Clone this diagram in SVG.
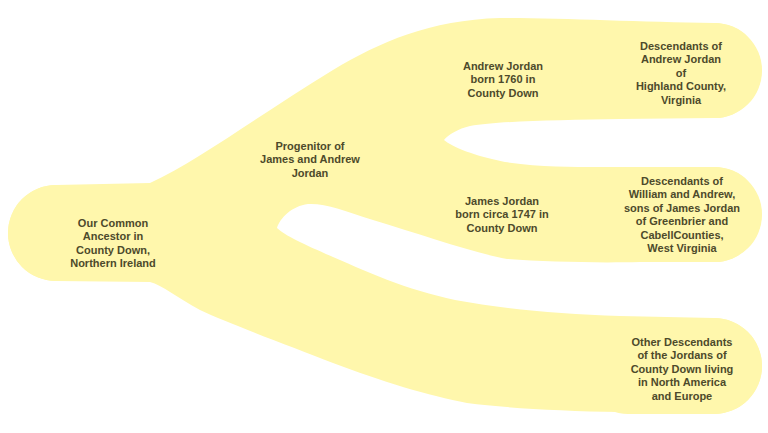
<svg xmlns="http://www.w3.org/2000/svg" width="768" height="433" viewBox="0 0 768 433">
<style>
.shape{fill:#FFF7AC;stroke:none}
.lbl{font-family:"Liberation Sans",Arial,sans-serif;font-weight:bold;font-size:11px;fill:#4D4A2B;text-anchor:middle}
</style>
<rect width="768" height="433" fill="#FFFFFF"/>
<g id="connectors">
<path class="shape" d="M 56,185 L 150,183 C 200,160 262,113 333,70 C 380,42 430,20 500,18 C 560,18 640,22 714,23 A 47.5 47.5 0 0 1 714,118 L 620,119 C 560,120 500,121 470,126 C 458,129 449,134 444,140 C 452,147 475,156 505,162 C 540,167 570,167 600,167 L 714,167 A 47.5 47.5 0 0 1 714,262 L 640,262 C 600,263 545,262 507,259 C 470,252 420,234 373,220 C 345,211 325,203 308,204 C 292,206 280,218 277,228 C 285,236 310,247 340,260 C 380,278 425,296 473,303 C 515,310 565,314 620,316 L 714,318 A 48 48 0 0 1 714,414 L 620,412 C 560,411 505,408 467,403 C 430,396 380,381 333,363 C 290,346 230,324 200,310 C 178,298 162,285 150,282 L 56,281 A 48 48 0 0 1 56,185 Z"/>
</g>
<g id="node-ancestor">
<rect class="shape" x="8" y="185" width="140" height="96" rx="48"/>
<text class="lbl" x="113" y="227"><tspan x="113">Our Common</tspan><tspan x="113" dy="13.4">Ancestor in</tspan><tspan x="113" dy="13.4">County Down,</tspan><tspan x="113" dy="13.4">Northern Ireland</tspan></text>
</g>
<g id="node-progenitor">
<text class="lbl" x="310" y="150"><tspan x="310">Progenitor of</tspan><tspan x="310" dy="13.4">James and Andrew</tspan><tspan x="310" dy="13.4">Jordan</tspan></text>
</g>
<g id="node-andrew">
<text class="lbl" x="503" y="70"><tspan x="503">Andrew Jordan</tspan><tspan x="503" dy="13.4">born 1760 in</tspan><tspan x="503" dy="13.4">County Down</tspan></text>
</g>
<g id="node-james">
<text class="lbl" x="502" y="205"><tspan x="502">James Jordan</tspan><tspan x="502" dy="13.4">born circa 1747 in</tspan><tspan x="502" dy="13.4">County Down</tspan></text>
</g>
<g id="node-desc-andrew">
<rect class="shape" x="580" y="23" width="182" height="95" rx="47.5"/>
<text class="lbl" x="681" y="50"><tspan x="681">Descendants of</tspan><tspan x="681" dy="13.4">Andrew Jordan</tspan><tspan x="681" dy="13.4">of</tspan><tspan x="681" dy="13.4">Highland County,</tspan><tspan x="681" dy="13.4">Virginia</tspan></text>
</g>
<g id="node-desc-james">
<rect class="shape" x="580" y="167" width="182" height="95" rx="47.5"/>
<text class="lbl" x="682" y="185"><tspan x="682">Descendants of</tspan><tspan x="682" dy="13.4">William and Andrew,</tspan><tspan x="682" dy="13.4">sons of James Jordan</tspan><tspan x="682" dy="13.4">of Greenbrier and</tspan><tspan x="682" dy="13.4">CabellCounties,</tspan><tspan x="682" dy="13.4">West Virginia</tspan></text>
</g>
<g id="node-other">
<rect class="shape" x="580" y="318" width="182" height="96" rx="48"/>
<text class="lbl" x="682" y="346"><tspan x="682">Other Descendants</tspan><tspan x="682" dy="13.4">of the Jordans of</tspan><tspan x="682" dy="13.4">County Down living</tspan><tspan x="682" dy="13.4">in North America</tspan><tspan x="682" dy="13.4">and Europe</tspan></text>
</g>
</svg>
